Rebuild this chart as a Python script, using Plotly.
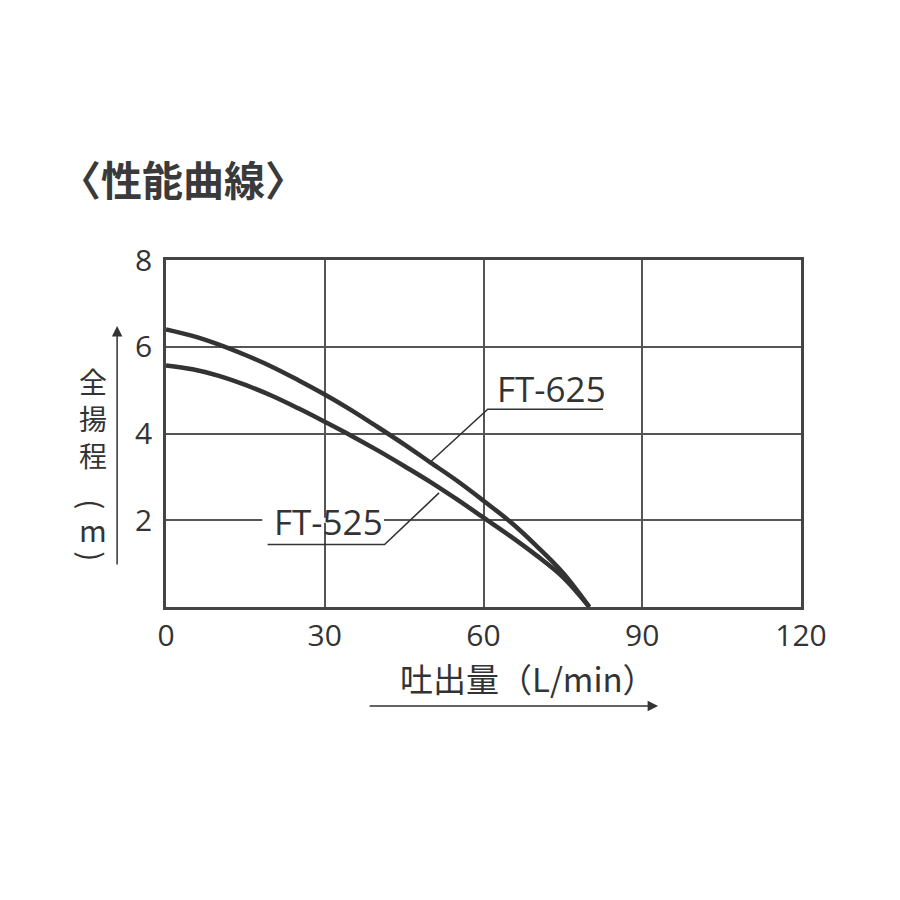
import plotly.graph_objects as go

# 性能曲線 (every 5 L/min)
flow = [0, 5, 10, 15, 20, 25, 30, 35, 40, 45, 50, 55, 60, 65, 70, 75, 80]
head_ft625 = [6.40, 6.25, 6.05, 5.81, 5.54, 5.23, 4.90, 4.54, 4.15, 3.75, 3.33, 2.91, 2.45, 1.97, 1.41, 0.79, 0]
head_ft525 = [5.57, 5.48, 5.33, 5.12, 4.87, 4.58, 4.27, 3.95, 3.61, 3.25, 2.88, 2.48, 2.06, 1.64, 1.19, 0.69, 0]

x_ticks = [0, 30, 60, 90, 120]
y_ticks = [2, 4, 6, 8]

# label leader lines (data coords)
lead_625_x = [50.1, 60.8, 82.6]
lead_625_y = [3.36, 4.56, 4.56]
lead_525_x = [51.6, 41.3, 19.2]
lead_525_y = [2.63, 1.44, 1.44]

ink = "#333333"
num_font = "Open Sans, Noto Sans CJK JP"
jp_font = "Noto Sans CJK JP"

fig = go.Figure()

# gap in the 2 m grid line behind the FT-525 label
fig.add_trace(go.Scatter(x=[18.2, 41.2], y=[2, 2], mode="lines",
                         line=dict(color="white", width=5),
                         hoverinfo="skip", showlegend=False))

for lx, ly in [(lead_625_x, lead_625_y), (lead_525_x, lead_525_y)]:
    fig.add_trace(go.Scatter(x=lx, y=ly, mode="lines",
                             line=dict(color=ink, width=1.6),
                             hoverinfo="skip", showlegend=False))

for name, head in [("FT-625", head_ft625), ("FT-525", head_ft525)]:
    fig.add_trace(go.Scatter(x=flow, y=head, mode="lines", name=name,
                             line=dict(color=ink, width=4.5, shape="spline", smoothing=1.0),
                             showlegend=False))

fig.update_layout(
    width=900, height=900,
    margin=dict(l=158, r=107, t=252, b=301),
    paper_bgcolor="white", plot_bgcolor="white",
    font=dict(family=num_font, color=ink, size=30),
)

fig.update_xaxes(range=[0, 120], tickvals=x_ticks, ticks="",
                 showgrid=True, gridcolor="#555555", gridwidth=1.5,
                 showline=True, linecolor="#444444", linewidth=2.5, mirror=True,
                 zeroline=False, tickfont=dict(size=30, family=num_font, color=ink))
fig.update_yaxes(range=[0, 8], tickvals=y_ticks, ticks="",
                 showgrid=True, gridcolor="#555555", gridwidth=1.5,
                 showline=True, linecolor="#444444", linewidth=2.5, mirror=True,
                 zeroline=False, ticklabelstandoff=5,
                 tickfont=dict(size=30, family=num_font, color=ink))

# curve labels
fig.add_annotation(x=72.9, y=5.03, text="FT-625", showarrow=False,
                   font=dict(size=35, family=num_font, color=ink))
fig.add_annotation(x=30.7, y=1.96, text="FT-525", showarrow=False,
                   font=dict(size=35, family=num_font, color=ink))

# title
fig.add_annotation(xref="paper", yref="paper", x=-0.17, y=1.235, xanchor="left", yanchor="middle",
                   text="<b>〈性能曲線〉</b>", showarrow=False,
                   font=dict(size=41, family=jp_font, color="#3a3a3a"))

# x axis title
fig.add_annotation(xref="paper", yref="paper", x=0.570, y=-0.205, xanchor="center", yanchor="middle",
                   text="吐出量（L/min）", showarrow=False,
                   font=dict(size=33, family=jp_font, color=ink))

# y axis title, written vertically one character at a time
y_title = [("全", 0.651, 0, 28), ("揚", 0.545, 0, 28), ("程", 0.439, 0, 28),
           ("(", 0.297, 90, 30), ("m", 0.225, 0, 30), (")", 0.147, 90, 30)]
for ch, py, ang, sz in y_title:
    fig.add_annotation(xref="paper", yref="paper", x=-0.1154, y=py, xanchor="center", yanchor="middle",
                       text=ch, showarrow=False, textangle=ang,
                       font=dict(size=sz, family=jp_font, color=ink))

# axis arrows
fig.add_annotation(xref="paper", yref="paper", x=0.775, y=-0.285, ax=-290, ay=0,
                   text="", showarrow=True, arrowhead=2, arrowsize=1.4,
                   arrowwidth=1.5, arrowcolor=ink)
fig.add_annotation(xref="paper", yref="paper", x=-0.077, y=0.81, ax=0, ay=240,
                   text="", showarrow=True, arrowhead=2, arrowsize=1.4,
                   arrowwidth=1.5, arrowcolor=ink)

fig.write_html("out.html")
